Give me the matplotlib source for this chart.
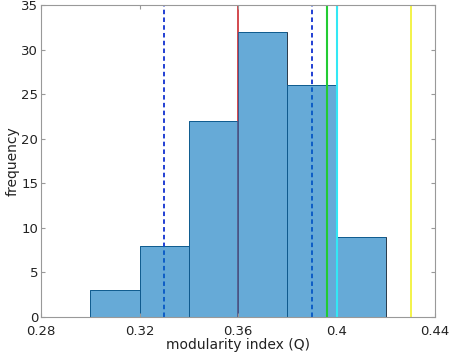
import matplotlib
matplotlib.use('Agg')
import matplotlib.pyplot as plt
import numpy as np

# data
bin_edges = [0.30, 0.32, 0.34, 0.36, 0.38, 0.40, 0.42]
counts = [3, 8, 22, 32, 26, 9]
ci_lines = [0.33, 0.39]          # blue dashed
mean_line = 0.36                 # red
green_line = 0.396
cyan_line = 0.400
yellow_line = 0.430

xticks = [0.28, 0.32, 0.36, 0.4, 0.44]
xtick_labels = ['0.28', '0.32', '0.36', '0.4', '0.44']
yticks = [0, 5, 10, 15, 20, 25, 30, 35]

fig = plt.figure(figsize=(4.5, 3.57), dpi=100)
ax = fig.add_axes([0.091, 0.112, 0.876, 0.874])

widths = np.diff(bin_edges)
# bar outlines first, then lines, then the semi-transparent faces on top
ax.bar(bin_edges[:-1], counts, width=widths, align='edge',
       facecolor='none', edgecolor='#26384a', linewidth=0.7, zorder=0)
for x in ci_lines:
    ax.axvline(x, color='#1030d0', linestyle=(0, (2.5, 1.8)), linewidth=1.3, zorder=0.5)
ax.axvline(mean_line, color='#cc2a30', linewidth=1.2, zorder=0.5)
ax.bar(bin_edges[:-1], counts, width=widths, align='edge',
       color=(0.0, 0.447, 0.741, 0.6), linewidth=0, zorder=1)

ax.axvline(green_line, color='#22cc33', linewidth=1.5, zorder=2)
ax.axvline(cyan_line, color='#33e8f5', linewidth=1.5, zorder=2)
ax.axvline(yellow_line, color='#f2f23a', linewidth=1.3, zorder=2)

ax.set_xlim(0.28, 0.44)
ax.set_ylim(0, 35)
ax.set_xticks(xticks)
ax.set_xticklabels(xtick_labels)
ax.set_yticks(yticks)

for s in ax.spines.values():
    s.set_color('#999999')
    s.set_linewidth(0.8)
ax.tick_params(direction='in', top=True, right=True, length=3,
               color='#999999', labelsize=9.5, labelcolor='#222222')
ax.tick_params(axis='x', pad=6)
ax.tick_params(axis='y', pad=2)

ax.set_xlabel('modularity index (Q)', fontsize=10, color='#222222', labelpad=0)
ax.set_ylabel('frequency', fontsize=10, color='#222222', labelpad=1)

plt.savefig('out.png', dpi=100)
